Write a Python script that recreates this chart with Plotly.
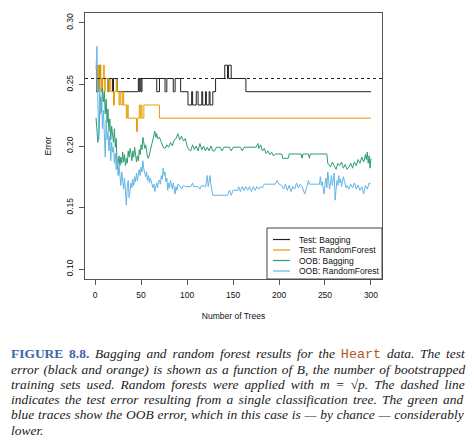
import glob
import struct
import plotly.graph_objects as go

# Test error, bagging (step changes: tree number, error)
black_x = [1, 2, 3, 4, 5, 6, 7, 8, 14, 15, 19, 20, 24, 47, 48, 49, 50, 51, 67, 70, 76, 78, 85, 87, 93,
           101, 105, 106, 110, 112, 116, 117, 120, 121, 124, 125, 128, 131, 141, 144, 145, 148, 164, 300]
black_y = [0.2441, 0.2656, 0.2548, 0.2441, 0.2656, 0.2548, 0.2441, 0.2548, 0.2441, 0.2548, 0.2441, 0.2548,
           0.2441, 0.2548, 0.2441, 0.2548, 0.2441, 0.2548, 0.2441, 0.2548, 0.2441, 0.2548, 0.2441, 0.2548,
           0.2441, 0.2333, 0.2441, 0.2333, 0.2441, 0.2333, 0.2441, 0.2333, 0.2441, 0.2333, 0.2441, 0.2333,
           0.2441, 0.2548, 0.2656, 0.2548, 0.2656, 0.2548, 0.2441, 0.2441]

# Test error, random forest
orange_x = [1, 2, 3, 4, 5, 6, 7, 8, 9, 10, 11, 14, 15, 17, 20, 21, 23, 24, 26, 27, 28, 30, 31, 34, 35,
            36, 45, 46, 48, 49, 50, 51, 53, 70, 300]
orange_y = [0.2656, 0.2548, 0.2656, 0.2441, 0.2656, 0.2548, 0.2441, 0.2548, 0.2656, 0.2441, 0.2548,
            0.2441, 0.2548, 0.2441, 0.2333, 0.2441, 0.2548, 0.2441, 0.2333, 0.2441, 0.2333, 0.2441,
            0.2333, 0.2226, 0.2333, 0.2226, 0.2118, 0.2226, 0.2333, 0.2226, 0.2333, 0.2226, 0.2333,
            0.2226, 0.2226]

# OOB error, bagging
green_x = [1, 2, 3, 4, 5, 6, 7, 8, 9, 10, 11, 12, 13, 14, 15, 16, 17, 18, 19, 20, 21, 22, 23, 24, 25,
           26, 27, 28, 29, 30, 31, 32, 33, 34, 35, 36, 37, 38, 39, 40, 41, 42, 43, 44, 45, 46, 47, 48,
           49, 50, 51, 52, 53, 54, 55, 56, 57, 58, 60, 62, 64, 65, 66, 67, 68, 70, 72, 74, 76, 78, 80,
           82, 84, 86, 88, 90, 92, 94, 96, 98, 100, 102, 104, 106, 108, 110, 112, 114, 116, 118, 120,
           122, 124, 126, 128, 130, 132, 136, 138, 140, 146, 148, 150, 158, 160, 162, 175, 177, 178,
           180, 182, 184, 186, 188, 190, 192, 194, 196, 203, 204, 210, 211, 224, 225, 226, 232, 233,
           234, 252, 253, 256, 258, 260, 262, 264, 266, 268, 270, 272, 274, 276, 278, 280, 282, 284,
           286, 288, 290, 292, 294, 295, 296, 297, 298, 299, 300]
green_y = [0.223, 0.215, 0.203, 0.210, 0.226, 0.240, 0.228, 0.247, 0.236, 0.244, 0.226, 0.238, 0.219,
           0.230, 0.212, 0.222, 0.205, 0.216, 0.209, 0.203, 0.214, 0.199, 0.206, 0.181, 0.186, 0.192,
           0.184, 0.191, 0.186, 0.195, 0.187, 0.193, 0.184, 0.190, 0.186, 0.196, 0.191, 0.198, 0.194,
           0.188, 0.196, 0.191, 0.199, 0.193, 0.187, 0.192, 0.188, 0.197, 0.193, 0.201, 0.197, 0.207,
           0.203, 0.198, 0.201, 0.195, 0.191, 0.190, 0.196, 0.203, 0.209, 0.212, 0.207, 0.210, 0.206,
           0.207, 0.203, 0.199, 0.198, 0.201, 0.199, 0.203, 0.200, 0.205, 0.206, 0.210, 0.205, 0.208,
           0.204, 0.206, 0.200, 0.197, 0.196, 0.201, 0.197, 0.200, 0.196, 0.202, 0.197, 0.200, 0.196,
           0.199, 0.196, 0.200, 0.196, 0.196, 0.199, 0.199, 0.196, 0.199, 0.199, 0.196, 0.199, 0.199,
           0.196, 0.199, 0.199, 0.202, 0.198, 0.201, 0.196, 0.198, 0.194, 0.196, 0.193, 0.195, 0.192,
           0.1935, 0.1935, 0.190, 0.190, 0.1935, 0.1935, 0.190, 0.1935, 0.1935, 0.190, 0.1935, 0.1935,
           0.186, 0.183, 0.187, 0.184, 0.181, 0.186, 0.184, 0.187, 0.182, 0.185, 0.181, 0.183, 0.186,
           0.182, 0.187, 0.184, 0.189, 0.186, 0.191, 0.187, 0.193, 0.189, 0.195, 0.186, 0.192, 0.182,
           0.190]

# OOB error, random forest
blue_x = [1, 2, 3, 4, 5, 6, 7, 8, 9, 10, 11, 12, 13, 14, 15, 16, 17, 18, 19, 20, 21, 22, 23, 24, 25,
          26, 27, 28, 29, 30, 31, 32, 33, 34, 35, 36, 37, 38, 39, 40, 41, 42, 43, 44, 45, 46, 47, 48,
          49, 50, 51, 52, 53, 54, 55, 56, 57, 58, 59, 60, 61, 62, 63, 64, 65, 66, 67, 68, 69, 70, 71,
          72, 73, 74, 75, 76, 77, 78, 79, 80, 81, 82, 83, 84, 85, 86, 87, 88, 89, 90, 92, 94, 96, 98,
          100, 104, 106, 107, 112, 114, 116, 120, 121, 122, 123, 124, 125, 126, 128, 144, 146, 148,
          150, 155, 156, 158, 160, 162, 164, 166, 168, 170, 172, 174, 176, 178, 180, 182, 184, 196,
          198, 200, 203, 205, 207, 209, 211, 213, 215, 217, 219, 221, 223, 225, 227, 228, 230, 232,
          233, 244, 245, 246, 247, 248, 249, 250, 251, 252, 253, 254, 255, 256, 257, 258, 259, 260,
          261, 262, 263, 264, 265, 266, 267, 268, 269, 270, 271, 272, 273, 274, 276, 278, 280, 282,
          284, 286, 288, 290, 292, 294, 296, 298, 300]
blue_y = [0.262, 0.281, 0.236, 0.205, 0.248, 0.226, 0.238, 0.214, 0.229, 0.205, 0.191, 0.221, 0.205,
          0.212, 0.196, 0.208, 0.188, 0.203, 0.195, 0.199, 0.186, 0.194, 0.181, 0.190, 0.176, 0.184,
          0.177, 0.168, 0.179, 0.172, 0.165, 0.174, 0.160, 0.152, 0.168, 0.172, 0.158, 0.164, 0.170,
          0.166, 0.173, 0.168, 0.175, 0.171, 0.178, 0.172, 0.177, 0.181, 0.176, 0.183, 0.179, 0.188,
          0.181, 0.178, 0.175, 0.179, 0.172, 0.176, 0.170, 0.174, 0.171, 0.168, 0.166, 0.169, 0.163,
          0.167, 0.170, 0.166, 0.172, 0.172, 0.169, 0.176, 0.173, 0.182, 0.176, 0.179, 0.171, 0.174,
          0.164, 0.170, 0.166, 0.172, 0.169, 0.165, 0.170, 0.166, 0.161, 0.167, 0.164, 0.169, 0.168,
          0.165, 0.168, 0.167, 0.167, 0.167, 0.170, 0.167, 0.167, 0.165, 0.168, 0.167, 0.171, 0.176,
          0.167, 0.172, 0.176, 0.168, 0.160, 0.160, 0.164, 0.160, 0.164, 0.164, 0.167, 0.163, 0.167,
          0.164, 0.167, 0.164, 0.167, 0.163, 0.167, 0.164, 0.167, 0.165, 0.167, 0.166, 0.169, 0.169,
          0.172, 0.169, 0.168, 0.165, 0.169, 0.164, 0.168, 0.163, 0.167, 0.165, 0.170, 0.166, 0.169,
          0.167, 0.163, 0.161, 0.166, 0.172, 0.169, 0.169, 0.175, 0.168, 0.171, 0.163, 0.161, 0.169,
          0.174, 0.166, 0.179, 0.172, 0.165, 0.170, 0.176, 0.168, 0.175, 0.178, 0.156, 0.166, 0.172,
          0.168, 0.176, 0.170, 0.173, 0.167, 0.171, 0.175, 0.172, 0.169, 0.166, 0.168, 0.165, 0.169,
          0.166, 0.170, 0.165, 0.168, 0.164, 0.167, 0.161, 0.168, 0.165, 0.170, 0.169]

single_tree_error = 0.2548

series_names = ["Test: Bagging", "Test: RandomForest", "OOB: Bagging", "OOB: RandomForest"]
series_colors = ["#222222", "#E69F00", "#2E9C70", "#62B5E8"]

x_ticks = [0, 50, 100, 150, 200, 250, 300]
y_ticks = [0.10, 0.15, 0.20, 0.25, 0.30]

fig_label = "FIGURE 8.8."
data_name = "Heart"
caption_lines = [
    "FIGURE 8.8. Bagging and random forest results for the Heart data. The test",
    "error (black and orange) is shown as a function of B, the number of bootstrapped",
    "training sets used. Random forests were applied with m = √p. The dashed line",
    "indicates the test error resulting from a single classification tree. The green and",
    "blue traces show the OOB error, which in this case is — by chance — considerably",
    "lower.",
]


def font_widths(name):
    # advance widths (in em) read from the installed ttf, for justifying the caption
    paths = glob.glob("/usr/share/fonts/**/" + name, recursive=True)
    if not paths:
        return None
    d = open(paths[0], "rb").read()
    tabs = {}
    for i in range(struct.unpack(">H", d[4:6])[0]):
        tag, _, off, _ = struct.unpack(">4sIII", d[12 + 16 * i:28 + 16 * i])
        tabs[tag.decode("latin-1")] = off
    upem = struct.unpack(">H", d[tabs["head"] + 18:tabs["head"] + 20])[0]
    nhm = struct.unpack(">H", d[tabs["hhea"] + 34:tabs["hhea"] + 36])[0]
    adv = [struct.unpack(">H", d[tabs["hmtx"] + 4 * i:tabs["hmtx"] + 4 * i + 2])[0] for i in range(nhm)]
    c = tabs["cmap"]
    for i in range(struct.unpack(">H", d[c + 2:c + 4])[0]):
        pid, eid, off = struct.unpack(">HHI", d[c + 4 + 8 * i:c + 12 + 8 * i])
        s = c + off
        if pid == 3 and eid == 1 and struct.unpack(">H", d[s:s + 2])[0] == 4:
            n2 = struct.unpack(">H", d[s + 6:s + 8])[0]
            n = n2 // 2
            ends = struct.unpack(">%dH" % n, d[s + 14:s + 14 + n2])
            starts = struct.unpack(">%dH" % n, d[s + 16 + n2:s + 16 + 2 * n2])
            deltas = struct.unpack(">%dh" % n, d[s + 16 + 2 * n2:s + 16 + 3 * n2])
            ro = s + 16 + 3 * n2
            ros = struct.unpack(">%dH" % n, d[ro:ro + n2])

            def width(text):
                total = 0
                for ch in text:
                    code, g = ord(ch), 0
                    for k in range(n):
                        if ends[k] >= code:
                            if starts[k] <= code:
                                if ros[k] == 0:
                                    g = (code + deltas[k]) & 0xFFFF
                                else:
                                    a = ro + 2 * k + ros[k] + 2 * (code - starts[k])
                                    g = struct.unpack(">H", d[a:a + 2])[0]
                                    g = (g + deltas[k]) & 0xFFFF if g else 0
                            break
                    total += adv[min(g, nhm - 1)]
                return total / upem
            return width
    return None


# the page body adds an 8px margin, so work in reference pixels minus 8
OFF = 8
W, H = 474 - OFF, 443 - OFF
L, R, T, B = 85 - OFF, 92, 13 - OFF, 164
pw, ph = W - L - R, H - T - B


def px(xp):
    return (xp - OFF - L) / pw


def py(yp):
    return (H - B - (yp - OFF)) / ph


fig = go.Figure()
fig.add_trace(go.Scatter(x=black_x, y=black_y, mode="lines", line=dict(color=series_colors[0], width=1, shape="hv")))
fig.add_trace(go.Scatter(x=orange_x, y=orange_y, mode="lines", line=dict(color=series_colors[1], width=1, shape="hv")))
fig.add_trace(go.Scatter(x=green_x, y=green_y, mode="lines", line=dict(color=series_colors[2], width=1)))
fig.add_trace(go.Scatter(x=blue_x, y=blue_y, mode="lines", line=dict(color=series_colors[3], width=1)))

fig.add_hline(y=single_tree_error, line=dict(color="#222222", width=1, dash="3px,3px"))

# hand-drawn legend box (R style, compact rows)
fig.add_shape(type="rect", xref="paper", yref="paper", x0=px(267), x1=1, y0=0, y1=py(228),
              line=dict(color="#444444", width=1), fillcolor="white", layer="above")
rows = [239.5, 250, 260.5, 271]
for name, col, yp in zip(series_names, series_colors, rows):
    fig.add_shape(type="line", xref="paper", yref="paper", x0=px(273), x1=px(290), y0=py(yp), y1=py(yp),
                  line=dict(color=col, width=1.2), layer="above")
    fig.add_annotation(text=name, xref="paper", yref="paper", x=px(297), y=py(yp), xanchor="left",
                       yanchor="middle", showarrow=False, font=dict(size=8.5, color="#111111"))

# caption, justified between x=9 and x=464 of the reference
cap_left, cap_width = 9, 455
it_w = font_widths("LiberationSerif-Italic.ttf")
bd_w = font_widths("LiberationSerif-Bold.ttf")


def line_em(i, line):
    if it_w is None or bd_w is None:
        return None
    if i == 0:
        rest = line[len(fig_label):].replace(data_name, "")
        return bd_w(fig_label) + it_w(rest) + 0.6 * len(data_name)
    return it_w(line)


ems = [line_em(i, s) for i, s in enumerate(caption_lines)]
if ems[0] is None:
    cap_size, spacing = 13.5, [0] * len(caption_lines)
else:
    cap_size = min(14.5, (cap_width - 6) / max(ems))
    spacing = [(cap_width - e * cap_size) / max(1, s.count(" ")) for e, s in zip(ems, caption_lines)]
    spacing[-1] = 0

cap_y = [354, 369.2, 384.4, 399.6, 414.8, 430]
for i, (line, ws, yp) in enumerate(zip(caption_lines, spacing, cap_y)):
    if i == 0:
        line = line.replace(fig_label, "<b><span style='font-style:normal;color:#3D66A8'>%s</span></b>" % fig_label)
        line = line.replace(data_name, "<span style='font-family:Liberation Mono;font-style:normal;"
                                       "color:#B4561E'>%s</span>" % data_name)
    fig.add_annotation(text="<span style='word-spacing:%.2fpx'><i>%s</i></span>" % (ws, line),
                       xref="paper", yref="paper", x=px(cap_left), y=py(yp),
                       xanchor="left", yanchor="middle", showarrow=False,
                       font=dict(family="Liberation Serif", size=cap_size, color="#1a1a1a"))

axis_common = dict(showline=True, mirror=True, linecolor="#555555", linewidth=1, ticks="outside",
                   ticklen=5, tickcolor="#555555", showgrid=False, zeroline=False,
                   tickfont=dict(size=8.5, color="#111111"))

fig.update_layout(
    width=W, height=H,
    margin=dict(l=L, r=R, t=T, b=B),
    paper_bgcolor="white", plot_bgcolor="white",
    showlegend=False,
    font=dict(family="Liberation Sans", color="#111111"),
    xaxis=dict(range=[-11, 312], tickvals=x_ticks, ticklabelstandoff=3,
               title=dict(text="Number of Trees", font=dict(size=8.5), standoff=13), **axis_common),
    yaxis=dict(range=[0.092, 0.308], tickvals=y_ticks, tickformat=".2f", tickangle=-90,
               ticklabelstandoff=3,
               title=dict(text="Error", font=dict(size=8.5), standoff=11), **axis_common),
)

fig.write_html("out.html")
